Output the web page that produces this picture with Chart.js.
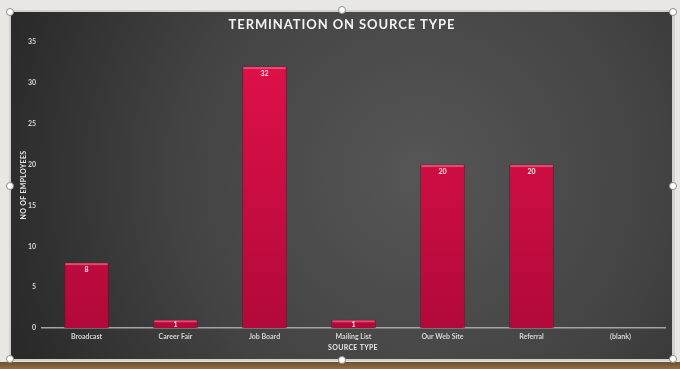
<!DOCTYPE html>
<html>
<head>
<meta charset="utf-8">
<script src="https://cdn.jsdelivr.net/npm/chart.js@4.4.0/dist/chart.umd.min.js"></script>
<style>
    html, body { margin: 0; padding: 0; background: #e7e6e3; }
    #wrap { position: relative; width: 680px; height: 369px; }
</style>
</head>
<body>
<div id="wrap"><canvas id="terminationChart"></canvas></div>
<script>
// Data
const sourceTypes = ['Broadcast', 'Career Fair', 'Job Board', 'Mailing List', 'Our Web Site', 'Referral', '(blank)'];
const terminations = [8, 1, 32, 1, 20, 20, 0];
const yMax = 35;
const yStep = 5;

const chartTitle = 'TERMINATION ON SOURCE TYPE';
const xTitle = 'SOURCE TYPE';
const yTitle = 'NO OF EMPLOYEES';

// Frame + dark backdrop (Excel-like selected chart object)
const framePlugin = {
    id: 'frame',
    beforeDraw(chart) {
        const ctx = chart.ctx;
        const w = chart.width, h = chart.height;
        ctx.save();
        ctx.fillStyle = '#e8e7e4';
        ctx.fillRect(0, 0, w, h);

        // wood strip at bottom
        const wood = ctx.createLinearGradient(0, 361, 0, h);
        wood.addColorStop(0, '#6b4a2c');
        wood.addColorStop(1, '#8f6e48');
        ctx.fillStyle = wood;
        ctx.fillRect(0, 362, w, h - 362);

        // outer bevel
        ctx.fillStyle = '#d3d1cc';
        ctx.fillRect(9, 10, 666, 351);

        // dark chart area with radial light
        const g = ctx.createRadialGradient(420, 175, 10, 420, 175, 430);
        g.addColorStop(0, '#555555');
        g.addColorStop(0.55, '#434343');
        g.addColorStop(1, '#2a2a2a');
        ctx.fillStyle = g;
        ctx.fillRect(11, 12, 661, 347);
        ctx.restore();
    },
    afterDraw(chart) {
        const ctx = chart.ctx;
        ctx.save();
        // titles
        ctx.fillStyle = '#f2f2f2';
        ctx.textAlign = 'center';
        ctx.textBaseline = 'middle';
        ctx.font = 'bold 13px Lato';
        ctx.letterSpacing = '0.9px';
        ctx.fillText(chartTitle, 342, 25);
        ctx.font = 'bold 7px Lato';
        ctx.letterSpacing = '0.3px';
        ctx.fillStyle = '#e6e6e6';
        ctx.fillText(xTitle, 353, 348);
        ctx.translate(24, 185);
        ctx.rotate(-Math.PI / 2);
        ctx.fillText(yTitle, 0, 0);
        ctx.restore();

        // selection handles
        const handles = [[10, 12], [342, 10], [673, 12], [10, 186], [673, 186], [10, 359], [342, 360], [673, 359]];
        ctx.save();
        handles.forEach(([x, y]) => {
            ctx.beginPath();
            ctx.arc(x, y, 3.5, 0, Math.PI * 2);
            ctx.fillStyle = '#ffffff';
            ctx.fill();
            ctx.lineWidth = 1;
            ctx.strokeStyle = '#8c8c8c';
            ctx.stroke();
        });
        ctx.restore();
    }
};

// Value labels inside the top of each bar
const valueLabels = {
    id: 'valueLabels',
    afterDatasetsDraw(chart) {
        const ctx = chart.ctx;
        const meta = chart.getDatasetMeta(0);
        ctx.save();
        meta.data.forEach((bar, i) => {
            const v = terminations[i];
            if (!v) return;
            const left = bar.x - bar.width / 2;
            const barH = bar.base - bar.y;
            // top bevel highlight
            ctx.fillStyle = 'rgba(240,90,125,0.8)';
            ctx.fillRect(left + 1, bar.y + 0.5, bar.width - 2, 2);
            // label clipped to the bar, like Excel's inside-end labels
            ctx.save();
            ctx.beginPath();
            ctx.rect(left, bar.y, bar.width, barH);
            ctx.clip();
            ctx.fillStyle = '#f6e8ec';
            ctx.font = 'bold 7px Lato';
            ctx.textAlign = 'center';
            ctx.textBaseline = 'middle';
            ctx.fillText(String(v), bar.x, bar.y + Math.min(7, barH / 2 + 1));
            ctx.restore();
        });
        ctx.restore();
    }
};

const ctx = document.getElementById('terminationChart').getContext('2d');

new Chart(ctx, {
    type: 'bar',
    data: {
        labels: sourceTypes,
        datasets: [{
            label: 'Total',
            data: terminations,
            backgroundColor: (c) => {
                const area = c.chart.chartArea;
                if (!area) return '#c80a3e';
                const g = c.chart.ctx.createLinearGradient(0, area.top, 0, area.bottom);
                g.addColorStop(0, '#e2114a');
                g.addColorStop(1, '#b2093a');
                return g;
            },
            borderColor: '#880628',
            borderWidth: 1,
            borderSkipped: 'bottom',
            barPercentage: 0.5,
            categoryPercentage: 1
        }]
    },
    options: {
        responsive: true,
        maintainAspectRatio: false,
        animation: false,
        layout: { padding: { left: 12, right: 15, top: 42, bottom: 11 } },
        plugins: {
            legend: { display: false },
            tooltip: { enabled: false },
            title: { display: false }
        },
        scales: {
            x: {
                grid: { display: false, drawTicks: false },
                border: { display: true, color: '#a4a4a4', width: 1.5 },
                ticks: {
                    color: '#d6d6d6',
                    font: { family: 'Lato', size: 7, weight: 'bold' },
                    padding: 5,
                    maxRotation: 0,
                    autoSkip: false
                },
                afterFit(scale) { scale.height = 30; }
            },
            y: {
                min: 0,
                max: yMax,
                grid: { display: false, drawTicks: false },
                border: { display: false },
                ticks: {
                    stepSize: yStep,
                    color: '#d6d6d6',
                    font: { family: 'Lato', size: 7, weight: 'bold' },
                    padding: 6
                },
                afterFit(scale) { scale.width = 30; }
            }
        }
    },
    plugins: [framePlugin, valueLabels]
});
</script>
</body>
</html>
